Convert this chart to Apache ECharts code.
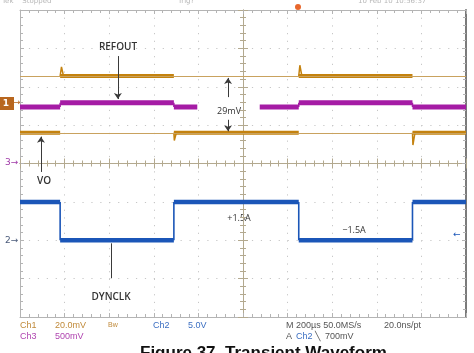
<!DOCTYPE html>
<html>
<head>
<meta charset="utf-8">
<script src="https://cdn.jsdelivr.net/npm/echarts@6/dist/echarts.min.js"></script>
<style>
  html, body { margin: 0; padding: 0; background: #fff; }
  #main { width: 474px; height: 353px; }
</style>
</head>
<body>
<div id="main"></div>
<script>
// x: time in us (M 200us/div, 10 div), y: screen divisions (8 div, 0 = centre)
const edgeTimes = [0, 180, 690, 1250, 1760, 2000];     // DYNCLK edges
const dynclkLevels = [-1.0, -2.0, -1.0, -2.0, -1.0];   // Ch2 (blue)
const voLevels = [0.8, 2.28, 0.8, 2.28, 0.8];          // Ch1 (orange)
const refoutLevels = [1.47, 1.58, 1.47, 1.58, 1.47];   // Ch3 (purple)
const voSpikes = [[186, 2.52], [692, 0.6], [1255, 2.56], [1762, 0.48]];
const cursorLevels = [2.28, 0.8];                      // 29mV cursors
const refoutGap = [795, 1075];                         // hidden under the 29mV label

// flat pieces of a trace, broken between them
function pieces(levels, gap) {
  const out = [];
  for (let i = 0; i < levels.length; i++) {
    const a = edgeTimes[i], b = edgeTimes[i + 1], v = levels[i];
    if (gap && gap[0] > a && gap[1] < b) {
      out.push([a, v], [gap[0], v], [gap[0], null], [gap[1], v], [b, v]);
    } else {
      out.push([a, v], [b, v]);
    }
    out.push([b, null]);
  }
  return out;
}

// the vertical edges only
function edges(levels) {
  const out = [];
  for (let i = 1; i < levels.length; i++) {
    out.push([edgeTimes[i], levels[i - 1]], [edgeTimes[i], levels[i]], [edgeTimes[i], null]);
  }
  return out;
}

// short overshoot spikes on VO right after each edge
function spikes() {
  const out = [];
  voSpikes.forEach(s => {
    const i = edgeTimes.findIndex((t, k) => s[0] >= t && s[0] < edgeTimes[k + 1]);
    const v = voLevels[i];
    out.push([edgeTimes[i], v], [s[0], s[1]], [s[0] + 9, v], [s[0] + 9, null]);
  });
  return out;
}

const chart = echarts.init(document.getElementById('main'));

const gridRect = { left: 20, top: 10, width: 446, height: 307 };
const gray = '#b4b4b4';

function xAx(grid, pos, extra) {
  return Object.assign({
    type: 'value', gridIndex: grid, position: pos, min: 0, max: 2000, interval: 200,
    axisLabel: { show: false },
    axisLine: { show: true, onZero: false, lineStyle: { color: gray, width: 1 } },
    axisTick: { show: true, inside: true, length: 4, lineStyle: { color: gray } },
    minorTick: { show: true, splitNumber: 5, length: 3, lineStyle: { color: gray } },
    splitLine: { show: false }
  }, extra || {});
}
function yAx(grid, pos, extra) {
  return Object.assign({
    type: 'value', gridIndex: grid, position: pos, min: -4, max: 4, interval: 1,
    axisLabel: { show: false },
    axisLine: { show: true, onZero: false, lineStyle: { color: gray, width: 1 } },
    axisTick: { show: true, inside: true, length: 4, lineStyle: { color: gray } },
    minorTick: { show: true, splitNumber: 5, length: 3, lineStyle: { color: gray } },
    splitLine: { show: false }
  }, extra || {});
}

const centreTick = { show: true, inside: true, length: 5, lineStyle: { color: '#b3a98f' } };
const centreMinor = { show: true, splitNumber: 5, length: 3, lineStyle: { color: '#b3a98f' } };
const centreLine = { show: true, onZero: false, lineStyle: { color: '#b3a98f', width: 1 } };

const arrowLine = { color: '#3a3a3a', width: 1, type: 'solid' };

const option = {
  animation: false,
  backgroundColor: '#fff',
  grid: [
    Object.assign({}, gridRect),
    Object.assign({}, gridRect)
  ],
  xAxis: [
    xAx(0, 'bottom', {
      splitLine: { show: true, lineStyle: { color: '#c6c6c6', width: 1, type: [1.2, 6.48] } }
    }),
    xAx(0, 'top'),
    xAx(1, 'bottom', { offset: -153.5, axisLine: centreLine, axisTick: centreTick, minorTick: centreMinor }),
    xAx(1, 'top', { offset: -153.5, axisLine: centreLine, axisTick: centreTick, minorTick: centreMinor })
  ],
  yAxis: [
    yAx(0, 'left', {
      splitLine: { show: true, lineStyle: { color: '#c6c6c6', width: 1, type: [1.2, 7.72] } }
    }),
    yAx(0, 'right', { axisLine: { show: true, onZero: false, lineStyle: { color: '#7a7a7a', width: 2 } } }),
    yAx(1, 'left', { offset: -223, axisLine: centreLine, axisTick: centreTick, minorTick: centreMinor }),
    yAx(1, 'right', { offset: -223, axisLine: centreLine, axisTick: centreTick, minorTick: centreMinor })
  ],
  series: [
    {
      name: 'cursors', type: 'line', xAxisIndex: 0, yAxisIndex: 0, data: [],
      markLine: {
        silent: true, symbol: 'none', label: { show: false },
        lineStyle: { color: '#c9a25e', width: 1, type: 'solid' },
        data: cursorLevels.map(v => ({ yAxis: v }))
      }
    },
    {
      name: 'VO', type: 'line', xAxisIndex: 0, yAxisIndex: 0, showSymbol: false,
      connectNulls: false, data: pieces(voLevels),
      lineStyle: { color: '#c4820f', width: 4 }
    },
    {
      name: 'VO spikes', type: 'line', xAxisIndex: 0, yAxisIndex: 0, showSymbol: false,
      connectNulls: false, data: spikes(),
      lineStyle: { color: '#c4820f', width: 1.5 }
    },
    {
      name: 'REFOUT edges', type: 'line', xAxisIndex: 0, yAxisIndex: 0, showSymbol: false,
      connectNulls: false, data: edges(refoutLevels),
      lineStyle: { color: '#a51ca5', width: 1.5 }
    },
    {
      name: 'REFOUT', type: 'line', xAxisIndex: 0, yAxisIndex: 0, showSymbol: false,
      connectNulls: false, data: pieces(refoutLevels, refoutGap),
      lineStyle: { color: '#a51ca5', width: 5 }
    },
    {
      name: 'DYNCLK edges', type: 'line', xAxisIndex: 0, yAxisIndex: 0, showSymbol: false,
      connectNulls: false, data: edges(dynclkLevels),
      lineStyle: { color: '#1b56b8', width: 1.6 }
    },
    {
      name: 'DYNCLK', type: 'line', xAxisIndex: 0, yAxisIndex: 0, showSymbol: false,
      connectNulls: false, data: pieces(dynclkLevels),
      lineStyle: { color: '#1b56b8', width: 4.5 },
      // annotation arrows
      markLine: {
        silent: true, label: { show: false }, symbolSize: 6,
        lineStyle: arrowLine,
        data: [
          [{ coord: [439, 2.8], symbol: 'none' }, { coord: [439, 1.68], symbol: 'arrow' }],
          [{ coord: [94, -0.22], symbol: 'none' }, { coord: [94, 0.7], symbol: 'arrow' }],
          [{ coord: [408, -2.99], symbol: 'none' }, { coord: [408, -2.08], symbol: 'none' }],
          [{ coord: [933, 1.73], symbol: 'none' }, { coord: [933, 2.23], symbol: 'arrow' }],
          [{ coord: [933, 1.14], symbol: 'none' }, { coord: [933, 0.84], symbol: 'arrow' }]
        ]
      }
    }
  ],
  graphic: [
    // faint header
    { type: 'text', style: { text: 'Tek    Stopped', x: 2, y: -2, fill: '#b8b8b8', font: '7px "DejaVu Sans"' } },
    { type: 'text', style: { text: 'Trig?', x: 178, y: -2, fill: '#b8b8b8', font: '7px "DejaVu Sans"' } },
    { type: 'text', style: { text: '10 Feb 10 10:56:37', x: 358, y: -2, fill: '#b8b8b8', font: '7px "DejaVu Sans"' } },
    { type: 'circle', shape: { cx: 298, cy: 7, r: 3 }, style: { fill: '#e8672c' } },
    // channel markers
    { type: 'rect', shape: { x: 0, y: 97, width: 14, height: 13 }, style: { fill: '#b8661e' } },
    { type: 'text', style: { text: '1', x: 6, y: 104, fill: '#fff', font: 'bold 9px "DejaVu Sans"', align: 'center', verticalAlign: 'middle' } },
    { type: 'text', style: { text: '→', x: 13, y: 103, fill: '#b8661e', font: '9px "DejaVu Sans"', verticalAlign: 'middle' } },
    { type: 'text', style: { text: '3→', x: 5, y: 163, fill: '#a03aa8', font: '9px "DejaVu Sans"', verticalAlign: 'middle' } },
    { type: 'text', style: { text: '2→', x: 5, y: 241, fill: '#4a5a7a', font: '9px "DejaVu Sans"', verticalAlign: 'middle' } },
    { type: 'text', style: { text: '←', x: 453, y: 235, fill: '#1b56b8', font: '9px "DejaVu Sans"', verticalAlign: 'middle' } },
    // annotations
    { type: 'text', style: { text: 'REFOUT', x: 118, y: 47, fill: '#333', font: '600 10px "Open Sans"', align: 'center', verticalAlign: 'middle' } },
    { type: 'rect', shape: { x: 213, y: 104, width: 32, height: 13 }, style: { fill: '#fff' } },
    { type: 'text', style: { text: '29mV', x: 229, y: 111, fill: '#333', font: '9px "Open Sans"', align: 'center', verticalAlign: 'middle' } },
    { type: 'text', style: { text: 'VO', x: 44, y: 181, fill: '#333', font: '600 10px "Open Sans"', align: 'center', verticalAlign: 'middle' } },
    { type: 'text', style: { text: '+1.5A', x: 239, y: 218, fill: '#333', font: '9px "Open Sans"', align: 'center', verticalAlign: 'middle' } },
    { type: 'text', style: { text: '\u22121.5A', x: 354, y: 230, fill: '#333', font: '9px "Open Sans"', align: 'center', verticalAlign: 'middle' } },
    { type: 'text', style: { text: 'DYNCLK', x: 111, y: 297, fill: '#333', font: '600 10px "Open Sans"', align: 'center', verticalAlign: 'middle' } },
    // scope readout
    { type: 'text', style: { text: 'Ch1', x: 20, y: 326, fill: '#c08a3a', font: '9px "Liberation Sans"', verticalAlign: 'middle' } },
    { type: 'text', style: { text: '20.0mV', x: 55, y: 326, fill: '#c08a3a', font: '9px "Liberation Sans"', verticalAlign: 'middle' } },
    { type: 'text', style: { text: 'Bw', x: 108, y: 325, fill: '#c08a3a', font: '7px "Liberation Sans"', verticalAlign: 'middle' } },
    { type: 'text', style: { text: 'Ch2', x: 153, y: 326, fill: '#3c6fc2', font: '9px "Liberation Sans"', verticalAlign: 'middle' } },
    { type: 'text', style: { text: '5.0V', x: 188, y: 326, fill: '#3c6fc2', font: '9px "Liberation Sans"', verticalAlign: 'middle' } },
    { type: 'text', style: { text: 'Ch3', x: 20, y: 337, fill: '#b045b0', font: '9px "Liberation Sans"', verticalAlign: 'middle' } },
    { type: 'text', style: { text: '500mV', x: 55, y: 337, fill: '#b045b0', font: '9px "Liberation Sans"', verticalAlign: 'middle' } },
    { type: 'text', style: { text: 'M 200\u00b5s 50.0MS/s', x: 286, y: 326, fill: '#555', font: '9px "Liberation Sans"', verticalAlign: 'middle' } },
    { type: 'text', style: { text: '20.0ns/pt', x: 384, y: 326, fill: '#555', font: '9px "Liberation Sans"', verticalAlign: 'middle' } },
    { type: 'text', style: { text: 'A', x: 286, y: 337, fill: '#555', font: '9px "Liberation Sans"', verticalAlign: 'middle' } },
    { type: 'text', style: { text: 'Ch2', x: 296, y: 337, fill: '#3c6fc2', font: '9px "Liberation Sans"', verticalAlign: 'middle' } },
    { type: 'text', style: { text: '\u2572  700mV', x: 315, y: 337, fill: '#555', font: '9px "Liberation Sans"', verticalAlign: 'middle' } },
    // figure caption, cut off by the picture edge
    { type: 'text', style: { text: 'Figure 37. Transient Waveform', x: 140, y: 345, fill: '#111', font: 'bold 17px "Liberation Sans"', verticalAlign: 'top' } }
  ]
};

chart.setOption(option);
</script>
</body>
</html>
